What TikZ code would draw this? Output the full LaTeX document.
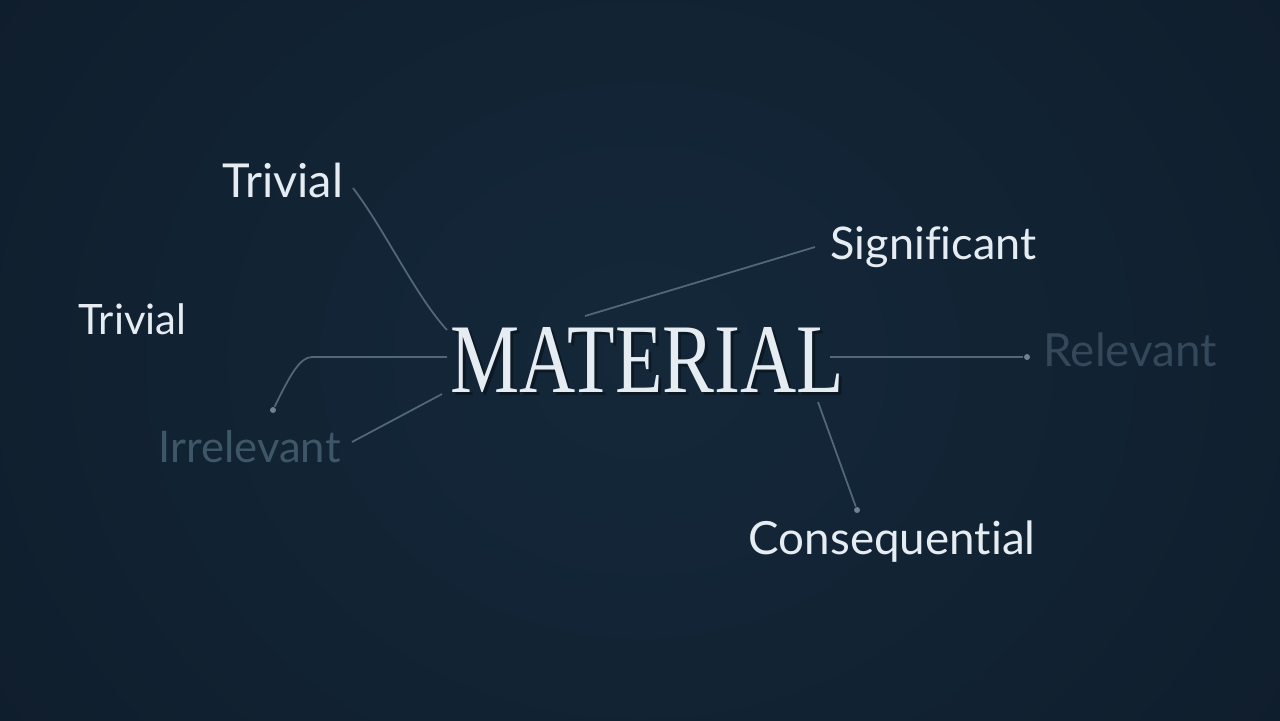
\documentclass[tikz,border=0pt]{standalone}
\usepackage{fontspec}
\newfontfamily\labelfont{Lato}[Ligatures={NoCommon}]
\newfontfamily\mainserif{Liberation Serif}
\usetikzlibrary{calc}
\definecolor{bgout}{HTML}{0E1B29}
\definecolor{bgin}{HTML}{14283A}
\definecolor{txt}{HTML}{E6EDF2}
\definecolor{faint}{HTML}{3E5768}
\definecolor{fainter}{HTML}{33485A}
\definecolor{conn}{HTML}{50687A}
\definecolor{dotc}{HTML}{6E8292}
\tikzset{
  lbl/.style={anchor=base west, inner sep=0pt, text=txt, font=\labelfont\fontsize{13}{14}\selectfont},
  conline/.style={draw=conn, line width=0.5pt},
  enddot/.style={circle, fill=dotc, inner sep=0pt, minimum size=1.7pt},
}
\begin{document}
\begin{tikzpicture}[x=0.01cm, y=-0.01cm]
\useasboundingbox (0,0) rectangle (1280,720);
\shade[inner color=bgin, outer color=bgout] (-350,-500) rectangle (1630,1220);
% connectors
\coordinate (tA) at (353,188);
\coordinate (tB) at (447,330);
\coordinate (iA) at (447,357);
\coordinate (iB) at (352,442);
\coordinate (iC) at (442,394);
\coordinate (sA) at (585,316);
\coordinate (sB) at (815,247);
\coordinate (rA) at (830,357);
\coordinate (cA) at (818,402);
\node[enddot] (d1) at (273,410) {};
\node[enddot] (d2) at (1027,357) {};
\node[enddot] (d3) at (857,510) {};
\draw[conline] (tA) .. controls (385,230) and (415,295) .. (tB);
\draw[conline] (iA) -- (312,357) .. controls (300,357) and (290,375) .. (d1);
\draw[conline] (iB) -- (iC);
\draw[conline] (sA) -- (sB);
\draw[conline] (rA) -- (d2);
\draw[conline] (cA) -- (d3);
% labels
\node[lbl, font=\labelfont\fontsize{13.3}{14}\selectfont] (triv1) at (222,197) {Trivial};
\node[lbl, font=\labelfont\fontsize{11.9}{14}\selectfont] (triv2) at (78,334) {Trivial};
\node[lbl, text=faint, font=\labelfont\fontsize{12.4}{14}\selectfont] (irr) at (158,462) {Irrelevant};
\node[lbl, font=\labelfont\fontsize{12.8}{14}\selectfont] (sig) at (830,259) {Significant};
\node[lbl, text=fainter] (rel) at (1043,366) {Relevant};
\node[lbl] (cons) at (748,554) {Consequential};
% main word
\node[anchor=base west, inner sep=0pt, text=black, opacity=0.35, font=\mainserif\fontsize{28}{28}\selectfont] at (453,395) {\scalebox{0.79}[1]{MATERIAL}};
\node[anchor=base west, inner sep=0pt, text=txt, font=\mainserif\fontsize{28}{28}\selectfont] (mat) at (450,392) {\scalebox{0.79}[1]{MATERIAL}};
\end{tikzpicture}
\end{document}
